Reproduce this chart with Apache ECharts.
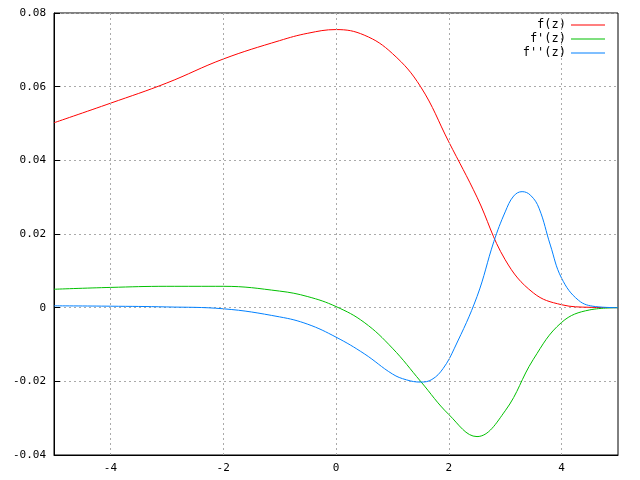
<!DOCTYPE html>
<html>
<head>
<meta charset="UTF-8">
<script src="https://cdn.jsdelivr.net/npm/echarts@6/dist/echarts.min.js"></script>
</head>
<body style="margin:0;background:#fff">
<div id="main" style="width:640px;height:480px;"></div>
<script>
var zs   = [-5, -4, -3, -2, -1, -0.5, 0, 0.5, 1, 1.5, 2, 2.5, 3, 3.5, 4, 4.5, 5];
var f    = [0.0502, 0.0555, 0.061, 0.0675, 0.0725, 0.0745, 0.0755, 0.074, 0.069, 0.06, 0.045, 0.03, 0.013, 0.004, 0.0008, 0.0001, 0];
var fp   = [0.005, 0.0055, 0.0058, 0.0058, 0.0045, 0.003, 0.0003, -0.004, -0.011, -0.02, -0.029, -0.035, -0.028, -0.014, -0.004, -0.0006, 0];
var zs2  = [-5, -4, -3, -2, -1, -0.5, 0, 0.5, 1, 1.25, 1.5, 1.7, 1.9, 2.1, 2.5, 2.8, 3, 3.15, 3.3, 3.45, 3.6, 3.8, 4, 4.3, 4.6, 5];
var fpp  = [0.0005, 0.0004, 0.0002, -0.0003, -0.0025, -0.0045, -0.008, -0.0125, -0.018, -0.0196, -0.0202, -0.0195, -0.0165, -0.011, 0.003, 0.018, 0.026, 0.0303, 0.0315, 0.0305, 0.027, 0.017, 0.008, 0.002, 0.0003, 0];
var xGrid = [-4, -2, 0, 2, 4];

function pairs(x, y) { return x.map(function (v, i) { return [v, y[i]]; }); }

var font = 'DejaVu Sans Mono';
var dash = { color: '#aaa', type: [2, 3], width: 1 };
var chart = echarts.init(document.getElementById('main'));
chart.setOption({
    animation: false,
    grid: { left: 54, right: 22, top: 13, bottom: 25, show: true, borderColor: '#000', borderWidth: 1 },
    legend: {
        right: 30, top: 14, orient: 'vertical', align: 'right', itemGap: 2,
        itemWidth: 34, itemHeight: 1, icon: 'rect',
        textStyle: { fontFamily: font, fontSize: 12, color: '#000' },
        data: ['f(z)', "f'(z)", "f''(z)"]
    },
    xAxis: {
        type: 'value', min: -5, max: 5, interval: 1,
        axisLine: { onZero: false, lineStyle: { color: '#000' } },
        axisTick: { show: false },
        axisLabel: { fontFamily: font, fontSize: 11, color: '#000',
            formatter: function (v) { return xGrid.indexOf(v) >= 0 ? v : ''; } },
        splitLine: { show: false }
    },
    yAxis: {
        type: 'value', min: -0.04, max: 0.08, interval: 0.02,
        axisLine: { show: true, onZero: false, lineStyle: { color: '#000' } },
        axisTick: { inside: true, length: 6, lineStyle: { color: '#000' } },
        axisLabel: { fontFamily: font, fontSize: 11, color: '#000',
            formatter: function (v) { return v === 0 ? '0' : v.toFixed(2); } },
        splitLine: { lineStyle: dash }
    },
    series: [
        { name: 'f(z)', type: 'line', smooth: 0.4, showSymbol: false, color: '#ff0000', lineStyle: { width: 1 }, data: pairs(zs, f),
          markLine: { silent: true, symbol: 'none', label: { show: false }, lineStyle: dash,
              data: xGrid.map(function (v) { return { xAxis: v }; }) } },
        { name: "f'(z)", type: 'line', smooth: 0.4, showSymbol: false, color: '#00c000', lineStyle: { width: 1 }, data: pairs(zs, fp) },
        { name: "f''(z)", type: 'line', smooth: 0.4, showSymbol: false, color: '#0080ff', lineStyle: { width: 1 }, data: pairs(zs2, fpp) }
    ]
});
</script>
</body>
</html>
